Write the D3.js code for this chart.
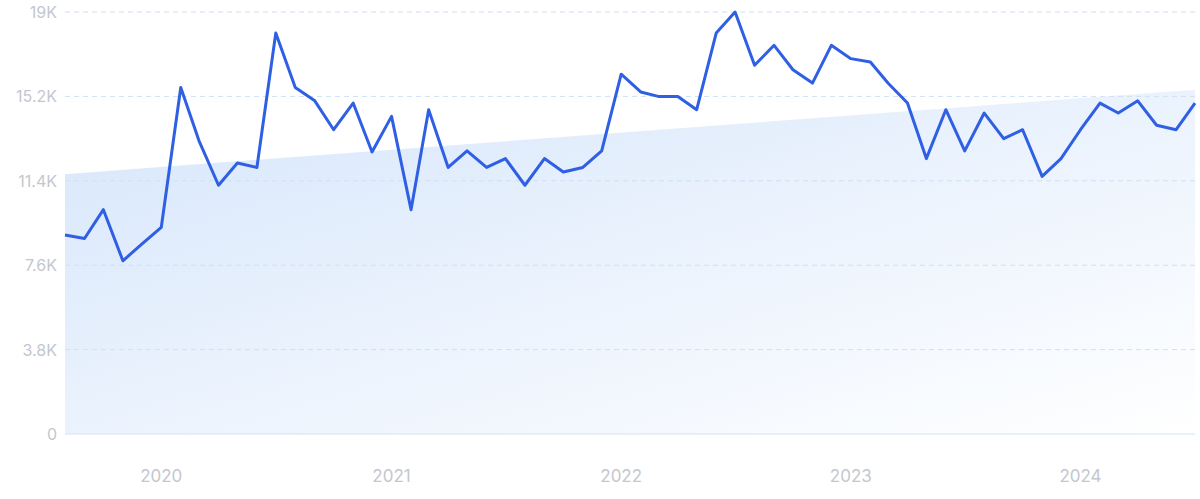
<!DOCTYPE html>
<html>
<head>
<meta charset="utf-8">
<script src="https://cdn.jsdelivr.net/npm/d3@7"></script>
<style>
	body { margin: 0; background: #fff; }
	text { font-family: Inter, "Noto Sans", sans-serif; }
</style>
</head>
<body>
<svg id="chart" width="1200" height="499"></svg>
<script>
'use strict';

// data: monthly values, Aug 2019 .. Jul 2024
var startMonth = new Date(2019, 7, 1);
var values = [
	8.96, 8.8, 10.1, 7.8, 8.55, 9.3, 15.6, 13.2, 11.2, 12.2, 12.0, 18.05,
	15.6, 15.0, 13.7, 14.9, 12.7, 14.3, 10.1, 14.6, 12.0, 12.75, 12.0, 12.4,
	11.2, 12.4, 11.8, 12.0, 12.75, 16.2, 15.4, 15.2, 15.2, 14.6, 18.05, 19.0,
	16.6, 17.5, 16.4, 15.8, 17.5, 16.9, 16.75, 15.8, 14.9, 12.4, 14.6, 12.75,
	14.45, 13.3, 13.7, 11.6, 12.4, 13.7, 14.9, 14.45, 15.0, 13.9, 13.7, 14.9
];
var yTicks = [0, 3.8, 7.6, 11.4, 15.2, 19];
var yTickLabels = ['0', '3.8K', '7.6K', '11.4K', '15.2K', '19K'];
var xTickYears = [2020, 2021, 2022, 2023, 2024];
var trend = [11.7, 15.5];

var points = values.map(function(v, i){
	return { date: d3.timeMonth.offset(startMonth, i), value: v };
});

var margin = { left: 65, right: 5, top: 12, bottom: 65 };
var w = 1200, h = 499;
var svg = d3.select('#chart');

var x = d3.scaleTime()
	.domain([points[0].date, points[points.length - 1].date])
	.range([margin.left, w - margin.right]);
var y = d3.scaleLinear().domain([0, 19]).range([h - margin.bottom, margin.top]);

// gradient for trend area
var defs = svg.append('defs');
var grad = defs.append('linearGradient')
	.attr('id', 'trendGrad')
	.attr('x1', '0%').attr('y1', '0%').attr('x2', '100%').attr('y2', '100%');
grad.append('stop').attr('offset', '0%').attr('stop-color', '#d6e6fb');
grad.append('stop').attr('offset', '100%').attr('stop-color', '#ffffff');

// trend area
var x0 = x.domain()[0], x1 = x.domain()[1];
svg.append('path')
	.datum([{ d: x0, v: trend[0] }, { d: x1, v: trend[1] }])
	.attr('fill', 'url(#trendGrad)')
	.attr('d', d3.area()
		.x(function(d){ return x(d.d); })
		.y0(y(0))
		.y1(function(d){ return y(d.v); }));

// grid
svg.selectAll('line.grid')
	.data(yTicks.slice(1))
	.enter()
	.append('line')
	.attr('x1', margin.left).attr('x2', w - margin.right)
	.attr('y1', function(d){ return y(d); })
	.attr('y2', function(d){ return y(d); })
	.attr('stroke', '#cfe0f2')
	.attr('stroke-dasharray', '5,4');

svg.append('line')
	.attr('x1', margin.left).attr('x2', w - margin.right)
	.attr('y1', y(0)).attr('y2', y(0))
	.attr('stroke', '#d6e2ef');

// y labels
svg.selectAll('text.ylab')
	.data(yTicks)
	.enter()
	.append('text')
	.attr('x', margin.left - 8)
	.attr('y', function(d){ return y(d) + 6; })
	.attr('text-anchor', 'end')
	.attr('font-size', 16)
	.attr('fill', '#c3c7cf')
	.text(function(d, i){ return yTickLabels[i]; });

// x labels
svg.selectAll('text.xlab')
	.data(xTickYears)
	.enter()
	.append('text')
	.attr('x', function(d){ return x(new Date(d, 0, 1)); })
	.attr('y', 482)
	.attr('text-anchor', 'middle')
	.attr('font-size', 17)
	.attr('fill', '#c3c7cf')
	.text(function(d){ return d; });

// line
svg.append('path')
	.datum(points)
	.attr('fill', 'none')
	.attr('stroke', '#2f5fe3')
	.attr('stroke-width', 3)
	.attr('stroke-linejoin', 'round')
	.attr('d', d3.line()
		.x(function(d){ return x(d.date); })
		.y(function(d){ return y(d.value); }));
</script>
</body>
</html>
